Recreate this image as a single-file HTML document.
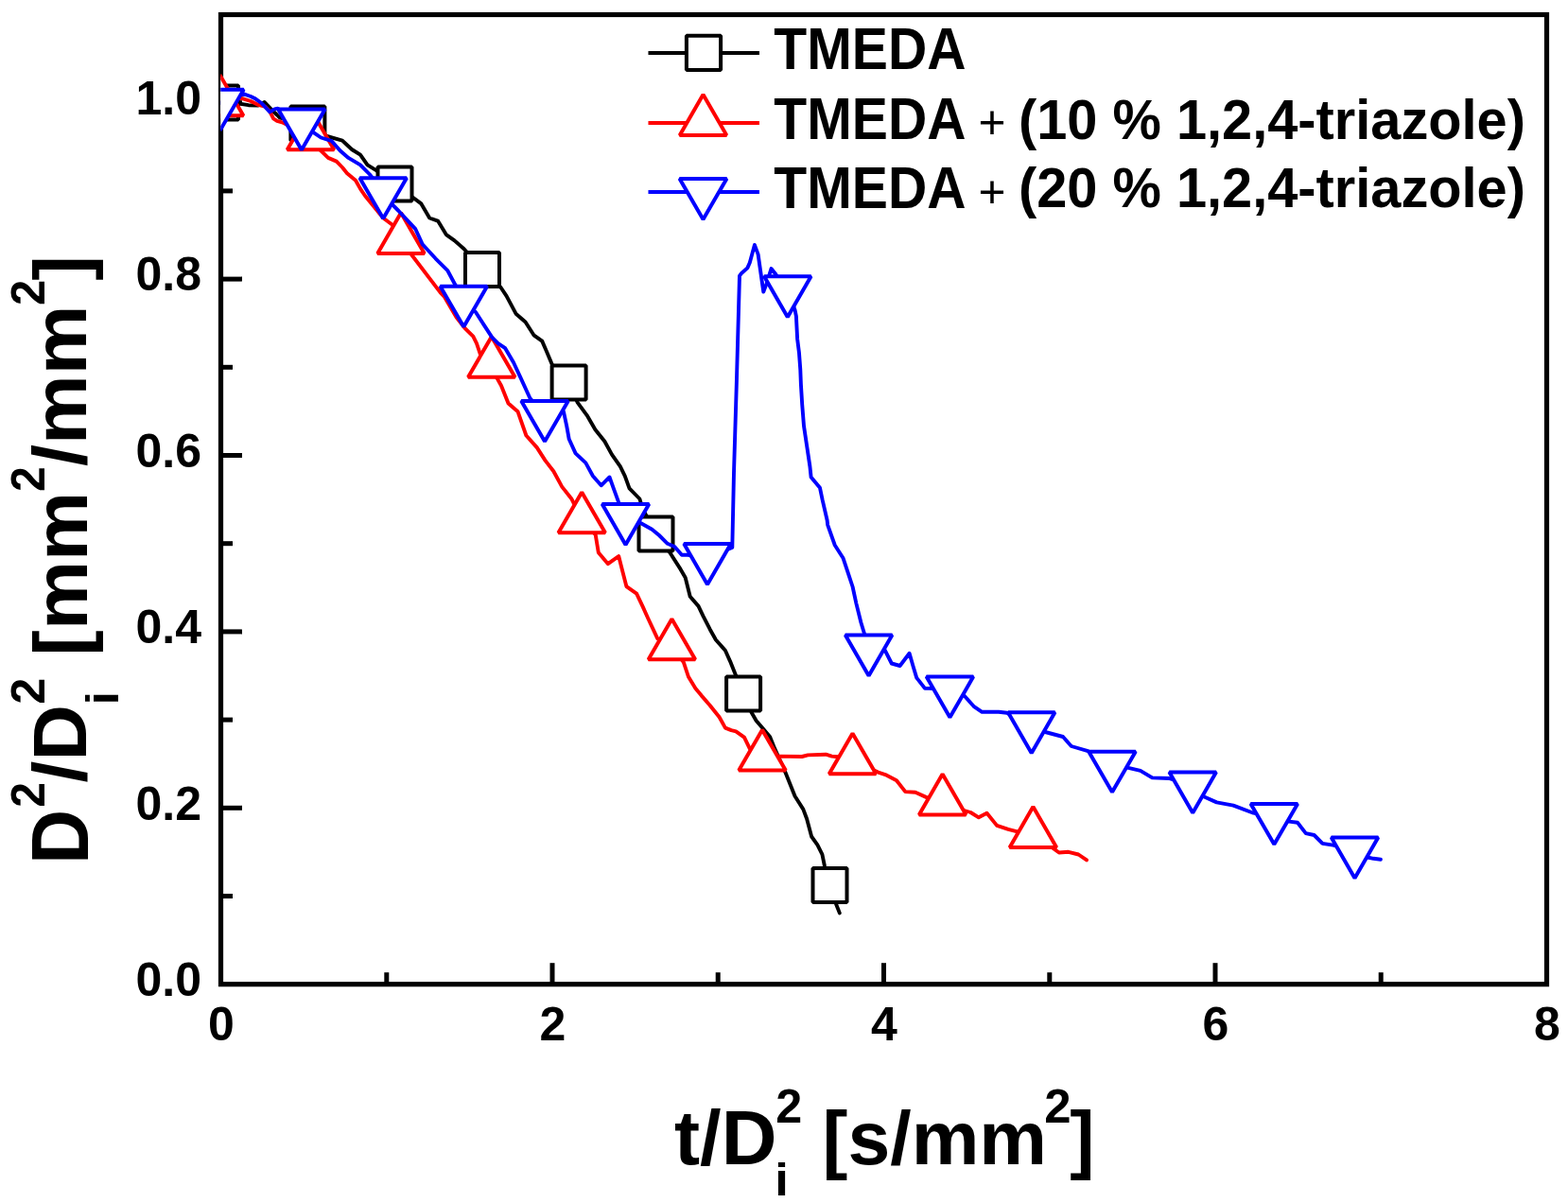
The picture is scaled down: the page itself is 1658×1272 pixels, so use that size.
<!DOCTYPE html>
<html><head><meta charset="utf-8"><style>
html,body{margin:0;padding:0;background:#fff;overflow:hidden;}
svg{display:block;}
text{font-kerning:none;}
</style></head><body>
<svg width="1658" height="1272" viewBox="0 0 1658 1272">
<rect width="1658" height="1272" fill="#fff"/>
<rect x="233.5" y="15.5" width="1402.0" height="1025.2" fill="none" stroke="#000" stroke-width="5.2"/>
<line x1="233.5" y1="947.5" x2="246.0" y2="947.5" stroke="#000" stroke-width="5"/>
<line x1="233.5" y1="854.3" x2="256.0" y2="854.3" stroke="#000" stroke-width="5"/>
<line x1="233.5" y1="761.1" x2="246.0" y2="761.1" stroke="#000" stroke-width="5"/>
<line x1="233.5" y1="667.9" x2="256.0" y2="667.9" stroke="#000" stroke-width="5"/>
<line x1="233.5" y1="574.7" x2="246.0" y2="574.7" stroke="#000" stroke-width="5"/>
<line x1="233.5" y1="481.5" x2="256.0" y2="481.5" stroke="#000" stroke-width="5"/>
<line x1="233.5" y1="388.3" x2="246.0" y2="388.3" stroke="#000" stroke-width="5"/>
<line x1="233.5" y1="295.1" x2="256.0" y2="295.1" stroke="#000" stroke-width="5"/>
<line x1="233.5" y1="201.9" x2="246.0" y2="201.9" stroke="#000" stroke-width="5"/>
<line x1="233.5" y1="108.7" x2="256.0" y2="108.7" stroke="#000" stroke-width="5"/>
<line x1="408.8" y1="1040.7" x2="408.8" y2="1028.2" stroke="#000" stroke-width="5"/>
<line x1="584.0" y1="1040.7" x2="584.0" y2="1018.2" stroke="#000" stroke-width="5"/>
<line x1="759.2" y1="1040.7" x2="759.2" y2="1028.2" stroke="#000" stroke-width="5"/>
<line x1="934.5" y1="1040.7" x2="934.5" y2="1018.2" stroke="#000" stroke-width="5"/>
<line x1="1109.8" y1="1040.7" x2="1109.8" y2="1028.2" stroke="#000" stroke-width="5"/>
<line x1="1285.0" y1="1040.7" x2="1285.0" y2="1018.2" stroke="#000" stroke-width="5"/>
<line x1="1460.2" y1="1040.7" x2="1460.2" y2="1028.2" stroke="#000" stroke-width="5"/>
<text x="213" y="1053.0" text-anchor="end" font-size="50" font-family="Liberation Sans, Arial, sans-serif" font-weight="bold">0.0</text>
<text x="213" y="866.6" text-anchor="end" font-size="50" font-family="Liberation Sans, Arial, sans-serif" font-weight="bold">0.2</text>
<text x="213" y="680.2" text-anchor="end" font-size="50" font-family="Liberation Sans, Arial, sans-serif" font-weight="bold">0.4</text>
<text x="213" y="493.8" text-anchor="end" font-size="50" font-family="Liberation Sans, Arial, sans-serif" font-weight="bold">0.6</text>
<text x="213" y="307.4" text-anchor="end" font-size="50" font-family="Liberation Sans, Arial, sans-serif" font-weight="bold">0.8</text>
<text x="213" y="121.0" text-anchor="end" font-size="50" font-family="Liberation Sans, Arial, sans-serif" font-weight="bold">1.0</text>
<text x="234.0" y="1100" text-anchor="middle" font-size="50" font-family="Liberation Sans, Arial, sans-serif" font-weight="bold">0</text>
<text x="584.5" y="1100" text-anchor="middle" font-size="50" font-family="Liberation Sans, Arial, sans-serif" font-weight="bold">2</text>
<text x="935.0" y="1100" text-anchor="middle" font-size="50" font-family="Liberation Sans, Arial, sans-serif" font-weight="bold">4</text>
<text x="1285.5" y="1100" text-anchor="middle" font-size="50" font-family="Liberation Sans, Arial, sans-serif" font-weight="bold">6</text>
<text x="1636.0" y="1100" text-anchor="middle" font-size="50" font-family="Liberation Sans, Arial, sans-serif" font-weight="bold">8</text>
<text transform="translate(712.91,1231.28) scale(1.0050,0.9964)" font-size="81" font-family="Liberation Sans, Arial, sans-serif" font-weight="bold" fill="#000" >t/D</text>
<text transform="translate(820.26,1186.80) scale(1.0053,1.0025)" font-size="50" font-family="Liberation Sans, Arial, sans-serif" font-weight="bold" fill="#000" >2</text>
<text transform="translate(819.14,1263.90) scale(1.0495,0.9633)" font-size="50" font-family="Liberation Sans, Arial, sans-serif" font-weight="bold" fill="#000" >i</text>
<text transform="translate(869.57,1231.33) scale(0.9956,0.9920)" font-size="81" font-family="Liberation Sans, Arial, sans-serif" font-weight="bold" fill="#000" >[s/mm</text>
<text transform="translate(1104.24,1186.70) scale(1.0178,0.9853)" font-size="50" font-family="Liberation Sans, Arial, sans-serif" font-weight="bold" fill="#000" >2</text>
<text transform="translate(1131.34,1231.33) scale(0.9703,0.9920)" font-size="81" font-family="Liberation Sans, Arial, sans-serif" font-weight="bold" fill="#000" >]</text>
<g transform="translate(92.8,908.5) rotate(-90)"><text transform="translate(-5.36,0.00) scale(0.9884,1.0533)" font-size="81" font-family="Liberation Sans, Arial, sans-serif" font-weight="bold" fill="#000" >D</text><text transform="translate(54.84,-45.70) scale(0.9555,1.0082)" font-size="50" font-family="Liberation Sans, Arial, sans-serif" font-weight="bold" fill="#000" >2</text><text transform="translate(81.00,-1.58) scale(1.0168,0.9732)" font-size="81" font-family="Liberation Sans, Arial, sans-serif" font-weight="bold" fill="#000" >/D</text><text transform="translate(163.86,-45.70) scale(1.0053,1.0082)" font-size="50" font-family="Liberation Sans, Arial, sans-serif" font-weight="bold" fill="#000" >2</text><text transform="translate(163.19,32.10) scale(1.0058,0.9633)" font-size="50" font-family="Liberation Sans, Arial, sans-serif" font-weight="bold" fill="#000" >i</text><text transform="translate(215.08,-0.50) scale(1.0152,0.9933)" font-size="81" font-family="Liberation Sans, Arial, sans-serif" font-weight="bold" fill="#000" >[mm</text><text transform="translate(388.43,-46.10) scale(0.9638,0.9997)" font-size="50" font-family="Liberation Sans, Arial, sans-serif" font-weight="bold" fill="#000" >2</text><text transform="translate(415.59,-1.39) scale(1.0216,0.9782)" font-size="81" font-family="Liberation Sans, Arial, sans-serif" font-weight="bold" fill="#000" >/mm</text><text transform="translate(585.50,-46.00) scale(0.9804,1.0054)" font-size="50" font-family="Liberation Sans, Arial, sans-serif" font-weight="bold" fill="#000" >2</text><text transform="translate(611.73,-0.42) scale(0.9843,0.9947)" font-size="81" font-family="Liberation Sans, Arial, sans-serif" font-weight="bold" fill="#000" >]</text></g>
<line x1="685.5" y1="55.9" x2="803" y2="55.9" stroke="#000" stroke-width="4"/>
<line x1="685.5" y1="130" x2="803" y2="130" stroke="#f00" stroke-width="4"/>
<line x1="685.5" y1="203" x2="803" y2="203" stroke="#00f" stroke-width="4"/>
<text transform="translate(818.36,72.80) scale(0.9524,1.0368)" font-size="60" font-family="Liberation Sans, Arial, sans-serif" font-weight="bold" fill="#000" >TMEDA</text>
<text transform="translate(818.36,147.00) scale(0.9524,1.0417)" font-size="60" font-family="Liberation Sans, Arial, sans-serif" font-weight="bold" fill="#000" >TMEDA</text>
<text transform="translate(1034.48,146.33) scale(0.8267,0.8210)" font-size="60" font-family="Liberation Sans, Arial, sans-serif" font-weight="normal" fill="#000" >+</text>
<text transform="translate(1077.02,146.58) scale(0.9626,0.9816)" font-size="60" font-family="Liberation Sans, Arial, sans-serif" font-weight="bold" fill="#000" >(10 % 1,2,4-triazole)</text>
<text transform="translate(818.36,219.80) scale(0.9524,1.0368)" font-size="60" font-family="Liberation Sans, Arial, sans-serif" font-weight="bold" fill="#000" >TMEDA</text>
<text transform="translate(1034.48,219.09) scale(0.8267,0.8142)" font-size="60" font-family="Liberation Sans, Arial, sans-serif" font-weight="normal" fill="#000" >+</text>
<text transform="translate(1077.02,219.34) scale(0.9626,0.9763)" font-size="60" font-family="Liberation Sans, Arial, sans-serif" font-weight="bold" fill="#000" >(20 % 1,2,4-triazole)</text>
<rect x="725.90" y="37.80" width="36.2" height="36.2" fill="#fff" stroke="#000" stroke-width="4" stroke-linejoin="bevel"/>
<polygon points="743.50,100.02 768.25,142.89 718.75,142.89" fill="#fff" stroke="#f00" stroke-width="4" stroke-linejoin="bevel"/>
<polygon points="743.50,232.05 768.40,188.92 718.60,188.92" fill="#fff" stroke="#00f" stroke-width="4" stroke-linejoin="bevel"/>
<clipPath id="pc"><rect x="233.2" y="15.5" width="1402.0" height="1025.2"/></clipPath>
<g clip-path="url(#pc)">
<polyline points="234.0,108.5 253.0,109.6 262.7,111.2 272.8,111.5 279.7,108.0 286.6,115.3 292.9,121.5 296.0,124.7 325.4,130.5 345.7,144.0 362.0,148.6 372.0,158.0 381.0,163.7 388.5,174.4 398.6,180.7 417.5,194.4 436.9,209.0 445.4,215.4 454.2,230.5 463.0,233.6 471.8,248.1 480.6,254.4 490.7,263.2 510.0,285.0 529.6,304.0 535.5,312.8 545.5,331.7 555.6,340.5 564.4,354.3 573.2,360.6 577.6,370.7 583.9,385.8 601.6,404.6 610.5,425.3 620.6,439.1 629.4,454.2 639.4,466.8 647.0,480.6 655.8,493.2 660.8,503.3 665.5,516.4 676.4,527.5 679.4,537.7 693.5,564.5 708.3,584.3 719.6,601.9 724.7,610.7 729.7,630.8 738.5,640.9 743.5,651.3 750.6,665.2 756.9,676.5 766.9,687.8 772.0,699.1 777.6,713.0 786.1,733.4 794.6,753.2 799.6,762.0 806.5,770.0 814.1,778.9 819.1,791.4 830.4,816.6 835.5,829.2 840.5,841.8 849.3,855.6 853.1,865.7 858.1,884.5 864.4,893.3 869.4,903.4 872.0,916.0 877.5,936.0 884.0,955.7 887.8,965.4" fill="none" stroke="#000" stroke-width="3.9" stroke-linejoin="round" stroke-linecap="round"/>
<rect x="216.00" y="90.50" width="36" height="36" fill="#fff" stroke="#000" stroke-width="4.0" stroke-linejoin="bevel"/>
<rect x="307.40" y="112.50" width="36" height="36" fill="#fff" stroke="#000" stroke-width="4.0" stroke-linejoin="bevel"/>
<rect x="399.50" y="176.40" width="36" height="36" fill="#fff" stroke="#000" stroke-width="4.0" stroke-linejoin="bevel"/>
<rect x="492.00" y="267.00" width="36" height="36" fill="#fff" stroke="#000" stroke-width="4.0" stroke-linejoin="bevel"/>
<rect x="583.60" y="386.60" width="36" height="36" fill="#fff" stroke="#000" stroke-width="4.0" stroke-linejoin="bevel"/>
<rect x="675.50" y="546.50" width="36" height="36" fill="#fff" stroke="#000" stroke-width="4.0" stroke-linejoin="bevel"/>
<rect x="768.10" y="715.40" width="36" height="36" fill="#fff" stroke="#000" stroke-width="4.0" stroke-linejoin="bevel"/>
<rect x="859.50" y="918.00" width="36" height="36" fill="#fff" stroke="#000" stroke-width="4.0" stroke-linejoin="bevel"/>
<polyline points="232.6,108.0 255.2,103.9 265.2,107.0 272.8,110.8 280.3,112.7 285.3,117.8 289.1,125.3 292.9,127.8 299.2,129.7 328.5,144.0 338.0,158.0 347.0,166.9 355.8,170.6 362.0,177.0 367.0,183.2 376.0,190.8 381.0,199.6 386.0,207.0 405.2,230.5 415.2,238.0 424.0,253.7 435.3,269.5 465.5,309.1 470.0,314.0 482.6,335.5 491.4,346.8 500.3,355.6 504.0,363.1 507.8,374.5 519.8,384.5 525.4,399.6 530.0,407.7 537.5,426.5 547.6,435.3 556.4,460.5 567.7,473.1 576.5,486.9 585.3,498.2 594.2,514.6 604.2,527.2 615.2,549.0 629.7,565.4 632.8,584.3 642.9,596.2 654.2,588.1 658.0,603.1 662.4,620.1 673.1,627.7 679.4,640.9 685.2,653.8 695.2,675.2 710.4,683.0 722.9,700.4 727.9,715.5 735.5,728.0 741.8,735.6 750.6,745.7 760.6,758.2 766.9,769.6 773.2,772.1 778.2,773.3 787.0,779.6 792.7,791.4 806.0,800.3 822.9,799.6 848.0,800.0 854.3,798.4 873.2,797.7 879.5,799.6 885.8,800.3 901.5,804.0 928.6,816.6 936.1,819.1 948.0,825.2 957.3,837.1 967.9,837.8 979.8,843.1 996.6,847.1 1019.6,857.0 1026.3,859.0 1034.9,864.3 1043.5,859.7 1054.1,872.9 1066.1,876.9 1076.7,879.6 1092.4,881.6 1119.8,901.5 1129.8,900.8 1140.4,903.5 1149.0,909.4" fill="none" stroke="#f00" stroke-width="3.9" stroke-linejoin="round" stroke-linecap="round"/>
<polygon points="232.60,79.42 257.35,122.29 207.85,122.29" fill="#fff" stroke="#f00" stroke-width="4.0" stroke-linejoin="bevel"/>
<polygon points="328.50,115.42 353.25,158.29 303.75,158.29" fill="#fff" stroke="#f00" stroke-width="4.0" stroke-linejoin="bevel"/>
<polygon points="424.00,225.12 448.75,267.99 399.25,267.99" fill="#fff" stroke="#f00" stroke-width="4.0" stroke-linejoin="bevel"/>
<polygon points="519.80,355.92 544.55,398.79 495.05,398.79" fill="#fff" stroke="#f00" stroke-width="4.0" stroke-linejoin="bevel"/>
<polygon points="615.20,520.42 639.95,563.29 590.45,563.29" fill="#fff" stroke="#f00" stroke-width="4.0" stroke-linejoin="bevel"/>
<polygon points="710.40,654.42 735.15,697.29 685.65,697.29" fill="#fff" stroke="#f00" stroke-width="4.0" stroke-linejoin="bevel"/>
<polygon points="806.00,771.72 830.75,814.59 781.25,814.59" fill="#fff" stroke="#f00" stroke-width="4.0" stroke-linejoin="bevel"/>
<polygon points="901.50,775.42 926.25,818.29 876.75,818.29" fill="#fff" stroke="#f00" stroke-width="4.0" stroke-linejoin="bevel"/>
<polygon points="996.60,818.52 1021.35,861.39 971.85,861.39" fill="#fff" stroke="#f00" stroke-width="4.0" stroke-linejoin="bevel"/>
<polygon points="1092.40,853.02 1117.15,895.89 1067.65,895.89" fill="#fff" stroke="#f00" stroke-width="4.0" stroke-linejoin="bevel"/>
<polyline points="232.9,109.0 256.4,98.9 265.2,102.0 270.3,104.6 276.5,109.0 285.3,118.4 290.4,115.3 293.5,114.6 318.9,129.8 331.9,140.4 339.4,145.5 350.8,149.2 359.6,159.3 368.4,166.9 381.0,174.4 391.0,184.5 405.2,202.5 415.2,216.7 421.5,223.0 439.1,241.8 446.7,258.2 460.5,273.3 473.1,285.8 480.6,299.7 490.3,317.0 502.8,329.8 520.4,356.9 526.7,363.1 534.2,368.2 543.0,383.3 550.6,399.6 560.4,421.0 576.0,438.2 596.0,435.3 599.2,450.4 601.7,464.3 608.6,479.4 619.3,489.4 626.9,503.3 635.7,513.3 644.5,504.5 649.5,518.4 654.5,532.2 661.5,547.3 676.9,552.8 689.4,559.7 697.0,566.0 705.8,574.8 713.3,578.0 720.9,586.8 727.2,586.8 748.0,589.4 774.3,579.0 776.0,500.0 779.0,400.0 782.0,291.6 784.0,289.0 790.3,283.4 792.8,277.7 797.9,258.9 801.6,268.9 807.3,308.6 810.4,300.4 815.5,284.0 820.5,290.3 832.8,306.6 840.6,328.0 841.9,334.3 843.1,358.2 845.0,373.3 846.3,391.0 846.9,406.4 848.2,427.7 850.0,450.4 853.2,471.8 856.4,493.1 857.6,504.5 867.0,515.8 869.6,528.4 874.6,550.0 875.2,555.1 882.8,576.5 891.6,590.3 896.6,605.4 901.6,620.5 905.4,638.1 910.4,658.2 914.2,670.8 918.6,685.8 935.8,687.7 942.8,701.5 951.6,704.0 961.6,690.8 965.4,704.0 969.2,716.6 978.0,727.9 983.0,727.9 1004.4,729.9 1019.5,735.5 1029.6,746.8 1038.4,752.8 1056.0,752.8 1064.8,753.7 1090.7,767.6 1105.2,774.0 1124.0,779.0 1132.8,789.0 1150.4,794.1 1176.0,809.0 1192.0,811.7 1205.8,814.8 1218.4,822.4 1236.0,823.0 1261.2,830.9 1273.9,842.8 1286.5,848.4 1304.1,851.6 1325.5,859.7 1347.3,864.2 1363.2,868.6 1372.0,869.8 1380.8,881.1 1389.6,883.0 1398.4,891.8 1409.7,893.7 1432.5,899.9 1446.0,906.5 1452.3,907.8 1459.9,908.7" fill="none" stroke="#00f" stroke-width="3.9" stroke-linejoin="round" stroke-linecap="round"/>
<polygon points="232.90,137.58 257.65,94.71 208.15,94.71" fill="#fff" stroke="#00f" stroke-width="4.0" stroke-linejoin="bevel"/>
<polygon points="318.90,158.38 343.65,115.51 294.15,115.51" fill="#fff" stroke="#00f" stroke-width="4.0" stroke-linejoin="bevel"/>
<polygon points="405.20,231.08 429.95,188.21 380.45,188.21" fill="#fff" stroke="#00f" stroke-width="4.0" stroke-linejoin="bevel"/>
<polygon points="490.30,345.58 515.05,302.71 465.55,302.71" fill="#fff" stroke="#00f" stroke-width="4.0" stroke-linejoin="bevel"/>
<polygon points="576.00,466.78 600.75,423.91 551.25,423.91" fill="#fff" stroke="#00f" stroke-width="4.0" stroke-linejoin="bevel"/>
<polygon points="661.50,575.88 686.25,533.01 636.75,533.01" fill="#fff" stroke="#00f" stroke-width="4.0" stroke-linejoin="bevel"/>
<polygon points="748.00,617.98 772.75,575.11 723.25,575.11" fill="#fff" stroke="#00f" stroke-width="4.0" stroke-linejoin="bevel"/>
<polygon points="832.80,335.18 857.55,292.31 808.05,292.31" fill="#fff" stroke="#00f" stroke-width="4.0" stroke-linejoin="bevel"/>
<polygon points="918.60,714.38 943.35,671.51 893.85,671.51" fill="#fff" stroke="#00f" stroke-width="4.0" stroke-linejoin="bevel"/>
<polygon points="1004.40,758.48 1029.15,715.61 979.65,715.61" fill="#fff" stroke="#00f" stroke-width="4.0" stroke-linejoin="bevel"/>
<polygon points="1090.70,796.18 1115.45,753.31 1065.95,753.31" fill="#fff" stroke="#00f" stroke-width="4.0" stroke-linejoin="bevel"/>
<polygon points="1176.00,837.58 1200.75,794.71 1151.25,794.71" fill="#fff" stroke="#00f" stroke-width="4.0" stroke-linejoin="bevel"/>
<polygon points="1261.20,859.48 1285.95,816.61 1236.45,816.61" fill="#fff" stroke="#00f" stroke-width="4.0" stroke-linejoin="bevel"/>
<polygon points="1347.30,892.78 1372.05,849.91 1322.55,849.91" fill="#fff" stroke="#00f" stroke-width="4.0" stroke-linejoin="bevel"/>
<polygon points="1432.50,928.48 1457.25,885.61 1407.75,885.61" fill="#fff" stroke="#00f" stroke-width="4.0" stroke-linejoin="bevel"/>
</g>
</svg></body></html>
